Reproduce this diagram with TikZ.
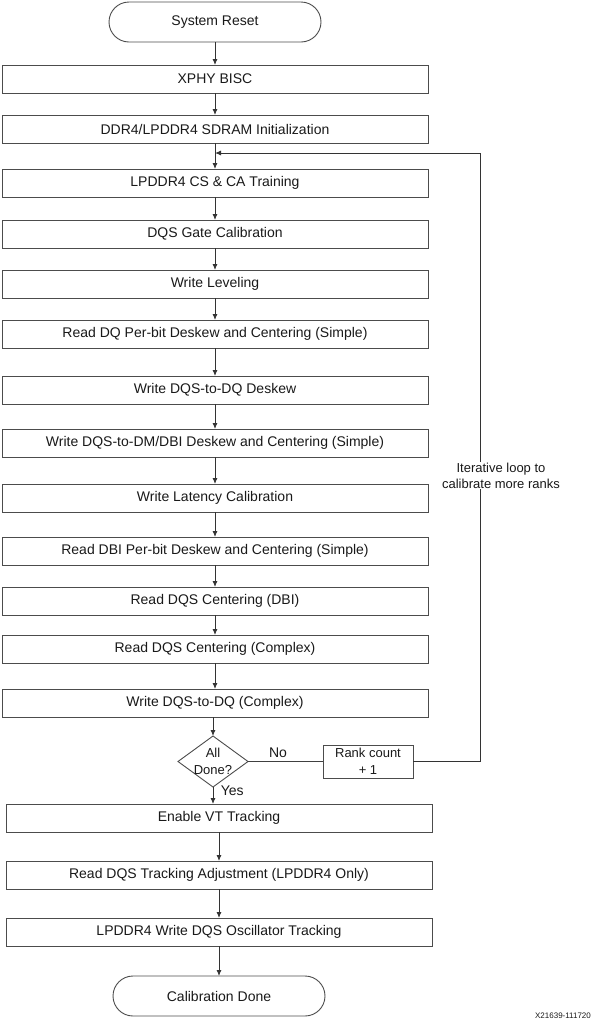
\documentclass[tikz,border=0pt]{standalone}
\usepackage{fontspec}
\setmainfont{Liberation Sans}
\usetikzlibrary{shapes.geometric,shapes.misc,arrows.meta,positioning}

\begin{document}
\begin{tikzpicture}[x=1pt,y=-1pt,
    every node/.style={font=\fontsize{14}{17}\selectfont, text=black!90},
    stepbox/.style={draw=black!70, line width=0.9pt, minimum width=426pt, minimum height=28pt, inner sep=0pt, outer sep=0pt},
    term/.style={draw=black!70, line width=0.9pt, rounded rectangle, minimum width=212pt, minimum height=40pt, inner sep=0pt, outer sep=0pt},
    decide/.style={draw=black!70, line width=0.9pt, diamond, minimum width=70pt, minimum height=51pt, inner sep=0pt, outer sep=0pt},
    rankbox/.style={draw=black!70, line width=0.9pt, minimum width=90pt, minimum height=33pt, inner sep=0pt, outer sep=0pt, font=\fontsize{13}{17}\selectfont, align=center},
    flow/.style={draw=black!80, line width=0.9pt, -{Latex[length=6pt,width=5pt]}},
    link/.style={draw=black!75, line width=0.9pt},
    small/.style={font=\fontsize{13}{16}\selectfont, align=center}]
    \useasboundingbox (0,0) rectangle (600,1029);
    % Start
    \node[term] (reset) at (215,22) {System Reset};
    % Calibration steps
    \node[stepbox, below=23pt of reset] (xphy) {XPHY BISC};
    \node[stepbox, below=22pt of xphy] (init) {DDR4/LPDDR4 SDRAM Initialization};
    \node[stepbox, below=26pt of init] (cs) {LPDDR4 CS \& CA Training};
    \node[stepbox, below=23pt of cs] (gate) {DQS Gate Calibration};
    \node[stepbox, below=22pt of gate] (wlev) {Write Leveling};
    \node[stepbox, below=22pt of wlev] (rdq) {Read DQ Per-bit Deskew and Centering (Simple)};
    \node[stepbox, below=28pt of rdq] (wdq) {Write DQS-to-DQ Deskew};
    \node[stepbox, below=25pt of wdq] (wdm) {Write DQS-to-DM/DBI Deskew and Centering (Simple)};
    \node[stepbox, below=27pt of wdm] (wlat) {Write Latency Calibration};
    \node[stepbox, below=25pt of wlat] (rdbi) {Read DBI Per-bit Deskew and Centering (Simple)};
    \node[stepbox, below=22pt of rdbi] (rdbic) {Read DQS Centering (DBI)};
    \node[stepbox, below=20pt of rdbic] (rcplx) {Read DQS Centering (Complex)};
    \node[stepbox, below=26pt of rcplx] (wcplx) {Write DQS-to-DQ (Complex)};
    % Rank decision
    \node[decide, below=19pt of wcplx, xshift=-2pt, label={[small, font=\fontsize{13}{17}\selectfont]center:All\\Done?}] (alldone) {};
    \node[rankbox, right=75pt of alldone] (rank) {Rank count\\+ 1};
    % Tracking
    \node[stepbox, below=17pt of alldone, xshift=6pt] (vt) {Enable VT Tracking};
    \node[stepbox, below=29pt of vt] (trk) {Read DQS Tracking Adjustment (LPDDR4 Only)};
    \node[stepbox, below=29pt of trk] (osc) {LPDDR4 Write DQS Oscillator Tracking};
    % End
    \node[term, below=30pt of osc] (caldone) {Calibration Done};
    \node[font=\fontsize{8}{10}\selectfont] (docid) at (563,1016) {X21639-111720};

    \foreach \a/\b in {reset/xphy, xphy/init, init/cs, cs/gate, gate/wlev, wlev/rdq, rdq/wdq, wdq/wdm, wdm/wlat, wlat/rdbi, rdbi/rdbic, rdbic/rcplx, rcplx/wcplx, wcplx/alldone}
        \draw[flow] (\b.north |- \a.south) -- (\b.north);
    \foreach \a/\b in {vt/trk, trk/osc, osc/caldone}
        \draw[flow] (\a.south) -- (\a.south |- \b.north);
    \draw[flow] (alldone.south) -- node[right, pos=0.2, xshift=4pt] {Yes} (alldone.south |- vt.north);
    \draw[link] (alldone.east) -- node[above, pos=0.4] {No} (rank.west);

    % Loop back to the next rank
    \coordinate (loopin) at ([yshift=16pt]cs.north);
    \coordinate (loopcorner) at ([xshift=67pt]rank.east);
    \draw[flow] (rank.east) -- (loopcorner)
        -- node[small, fill=white, pos=0.47, xshift=21pt, inner sep=1pt] (looptext) {Iterative loop to\\calibrate more ranks} (loopcorner |- loopin)
        -- (loopin);
\end{tikzpicture}
\end{document}
